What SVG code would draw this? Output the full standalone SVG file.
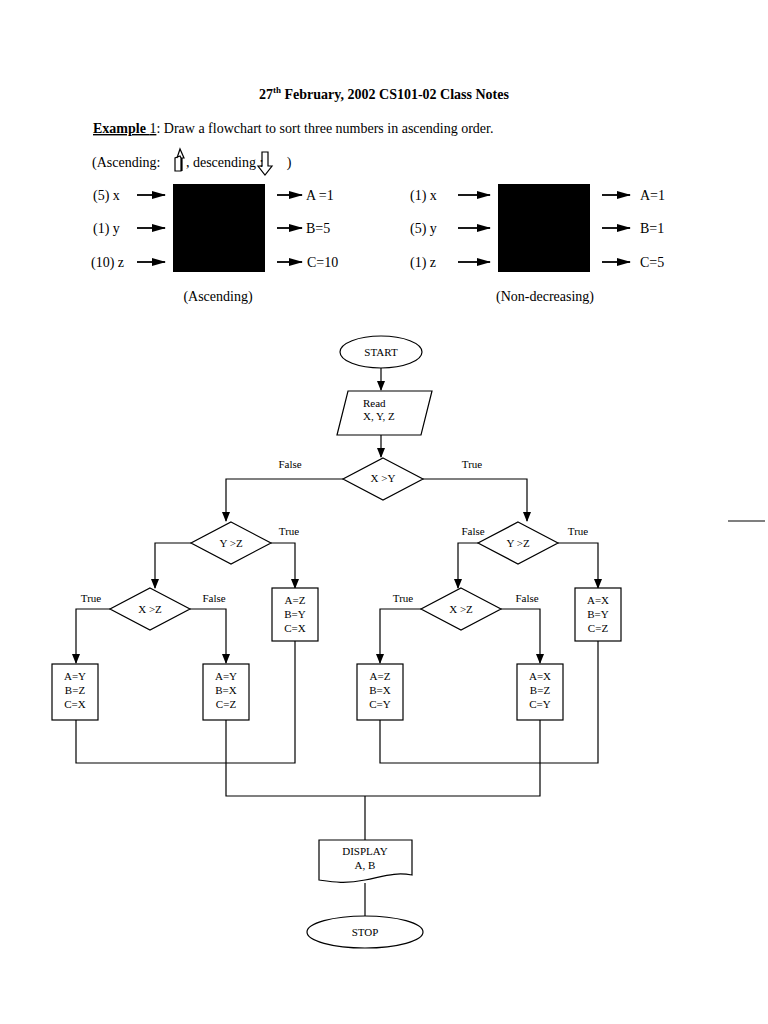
<svg xmlns="http://www.w3.org/2000/svg" width="768" height="1024" viewBox="0 0 768 1024">
<defs>
<marker id="ah" markerWidth="10" markerHeight="10" refX="9" refY="5" orient="auto" markerUnits="userSpaceOnUse"><path d="M0,1 L10,5 L0,9 z" fill="#000"/></marker>
<marker id="ah2" markerWidth="14" markerHeight="10" refX="13" refY="5" orient="auto" markerUnits="userSpaceOnUse"><path d="M0,1 L14,5 L0,9 z" fill="#000"/></marker>
</defs>
<style>
.t{font-family:"Liberation Serif",serif;font-size:14px;fill:#000}
.f{font-family:"Liberation Serif",serif;font-size:11px;fill:#000}
.s{fill:#fff;stroke:#000;stroke-width:1.2}
.c{fill:none;stroke:#000;stroke-width:1.2}
.a{stroke:#000;stroke-width:1.8;marker-end:url(#ah2)}
</style>
<rect width="768" height="1024" fill="#fff"/>
<text class="t" x="384" y="99" text-anchor="middle" font-weight="bold">27<tspan font-size="9" dy="-6">th</tspan><tspan dy="6"> February, 2002 CS101-02 Class Notes</tspan></text>
<text class="t" x="93" y="133"><tspan font-weight="bold" text-decoration="underline">Example </tspan><tspan text-decoration="underline">1</tspan>: Draw a flowchart to sort three numbers in ascending order.</text>
<text class="t" x="92" y="167">(Ascending: <tspan dx="22">, descending : </tspan><tspan dx="20">)</tspan></text>
<path d="M180,156 L175,158 V171 H181 V158 Z M177,158 L180,149 L184,158 H182 V171" class="c" stroke-width="1"/>
<path d="M262,152 H268 V166 H272 L265,175 L258,166 H262 Z" class="c" stroke-width="1"/>
<g id="left-box">
<rect x="173" y="184" width="92" height="88" fill="#000"/>
<text class="t" x="93" y="200">(5) x</text><text class="t" x="93" y="233">(1) y</text><text class="t" x="91" y="267">(10) z</text>
<line x1="137" y1="195" x2="165" y2="195" class="a"/><line x1="137" y1="228" x2="165" y2="228" class="a"/><line x1="137" y1="262" x2="165" y2="262" class="a"/>
<line x1="277" y1="195" x2="302" y2="195" class="a"/><line x1="277" y1="228" x2="302" y2="228" class="a"/><line x1="277" y1="262" x2="302" y2="262" class="a"/>
<text class="t" x="306" y="200">A =1</text><text class="t" x="306" y="233">B=5</text><text class="t" x="307" y="267">C=10</text>
<text class="t" x="218" y="301" text-anchor="middle">(Ascending)</text>
</g>
<g id="right-box">
<rect x="498" y="184" width="92" height="88" fill="#000"/>
<text class="t" x="410" y="200">(1) x</text><text class="t" x="410" y="233">(5) y</text><text class="t" x="410" y="267">(1) z</text>
<line x1="458" y1="195" x2="490" y2="195" class="a"/><line x1="458" y1="228" x2="490" y2="228" class="a"/><line x1="458" y1="262" x2="490" y2="262" class="a"/>
<line x1="602" y1="195" x2="630" y2="195" class="a"/><line x1="602" y1="228" x2="630" y2="228" class="a"/><line x1="602" y1="262" x2="630" y2="262" class="a"/>
<text class="t" x="640" y="200">A=1</text><text class="t" x="640" y="233">B=1</text><text class="t" x="640" y="267">C=5</text>
<text class="t" x="545" y="301" text-anchor="middle">(Non-decreasing)</text>
</g>
<line x1="728" y1="521" x2="765" y2="521" class="c"/>
<g id="connectors" class="c" marker-end="url(#ah)">
<path d="M381,368 V390"/>
<path d="M381,435 V457"/>
<path d="M343,479 H226 V521"/>
<path d="M423,479 H527 V521"/>
<path d="M191,543 H155 V588"/>
<path d="M271,543 H295 V588"/>
<path d="M110,609 H76 V663"/>
<path d="M190,609 H226 V663"/>
<path d="M478,543 H458 V588"/>
<path d="M558,543 H598 V588"/>
<path d="M421,609 H380 V663"/>
<path d="M501,609 H540 V663"/>
</g>
<g id="merge" class="c">
<path d="M76,720 V763 H295 V641"/>
<path d="M380,720 V763 H598 V641"/>
<path d="M226,720 V796 H540 V720"/>
<path d="M365,796 V840"/>
<path d="M365,883 V916"/>
</g>
<text class="f" x="290" y="468" text-anchor="middle" font-size="12">False</text>
<text class="f" x="472" y="468" text-anchor="middle" font-size="12">True</text>
<text class="f" x="289" y="535" text-anchor="middle" font-size="12">True</text>
<text class="f" x="473" y="535" text-anchor="middle" font-size="12">False</text>
<text class="f" x="578" y="535" text-anchor="middle" font-size="12">True</text>
<text class="f" x="91" y="602" text-anchor="middle" font-size="12">True</text>
<text class="f" x="214" y="602" text-anchor="middle" font-size="12">False</text>
<text class="f" x="403" y="602" text-anchor="middle" font-size="12">True</text>
<text class="f" x="527" y="602" text-anchor="middle" font-size="12">False</text>
<g id="start"><ellipse cx="381" cy="352" rx="41" ry="16" class="s"/><text class="f" x="381" y="356" text-anchor="middle">START</text></g>
<g id="read"><path d="M348,391 H432 L421,435 H337 Z" class="s"/><text class="f" x="363" y="407">Read</text><text class="f" x="363" y="420">X, Y, Z</text></g>
<g id="d-xy"><path d="M383,458 L423,479 L383,500 L343,479 Z" class="s"/><text class="f" x="383" y="482" text-anchor="middle">X &gt;Y</text></g>
<g id="d-yz-l"><path d="M231,522 L271,543 L231,564 L191,543 Z" class="s"/><text class="f" x="231" y="547" text-anchor="middle">Y &gt;Z</text></g>
<g id="d-yz-r"><path d="M518,522 L558,543 L518,564 L478,543 Z" class="s"/><text class="f" x="518" y="547" text-anchor="middle">Y &gt;Z</text></g>
<g id="d-xz-l"><path d="M150,588 L190,609 L150,630 L110,609 Z" class="s"/><text class="f" x="150" y="613" text-anchor="middle">X &gt;Z</text></g>
<g id="d-xz-r"><path d="M461,588 L501,609 L461,630 L421,609 Z" class="s"/><text class="f" x="461" y="613" text-anchor="middle">X &gt;Z</text></g>
<g id="b-zyx"><rect x="272" y="588" width="46" height="53" class="s"/><text class="f" x="295" text-anchor="middle"><tspan x="295" y="604">A=Z</tspan><tspan x="295" y="618">B=Y</tspan><tspan x="295" y="632">C=X</tspan></text></g>
<g id="b-xyz"><rect x="575" y="588" width="46" height="53" class="s"/><text class="f" text-anchor="middle"><tspan x="598" y="604">A=X</tspan><tspan x="598" y="618">B=Y</tspan><tspan x="598" y="632">C=Z</tspan></text></g>
<g id="b-yzx"><rect x="52" y="664" width="46" height="56" class="s"/><text class="f" text-anchor="middle"><tspan x="75" y="680">A=Y</tspan><tspan x="75" y="694">B=Z</tspan><tspan x="75" y="708">C=X</tspan></text></g>
<g id="b-yxz"><rect x="203" y="664" width="46" height="56" class="s"/><text class="f" text-anchor="middle"><tspan x="226" y="680">A=Y</tspan><tspan x="226" y="694">B=X</tspan><tspan x="226" y="708">C=Z</tspan></text></g>
<g id="b-zxy"><rect x="357" y="664" width="46" height="56" class="s"/><text class="f" text-anchor="middle"><tspan x="380" y="680">A=Z</tspan><tspan x="380" y="694">B=X</tspan><tspan x="380" y="708">C=Y</tspan></text></g>
<g id="b-xzy"><rect x="517" y="664" width="46" height="56" class="s"/><text class="f" text-anchor="middle"><tspan x="540" y="680">A=X</tspan><tspan x="540" y="694">B=Z</tspan><tspan x="540" y="708">C=Y</tspan></text></g>
<g id="display"><path d="M319,840 H412 V875 C395,872 385,876 365,880 C345,884 333,882 319,880 Z" class="s"/><text class="f" text-anchor="middle"><tspan x="365" y="855">DISPLAY</tspan><tspan x="365" y="869">A, B</tspan></text></g>
<g id="stop"><ellipse cx="365" cy="932" rx="58" ry="16" class="s"/><text class="f" x="365" y="936" text-anchor="middle">STOP</text></g>
</svg>
